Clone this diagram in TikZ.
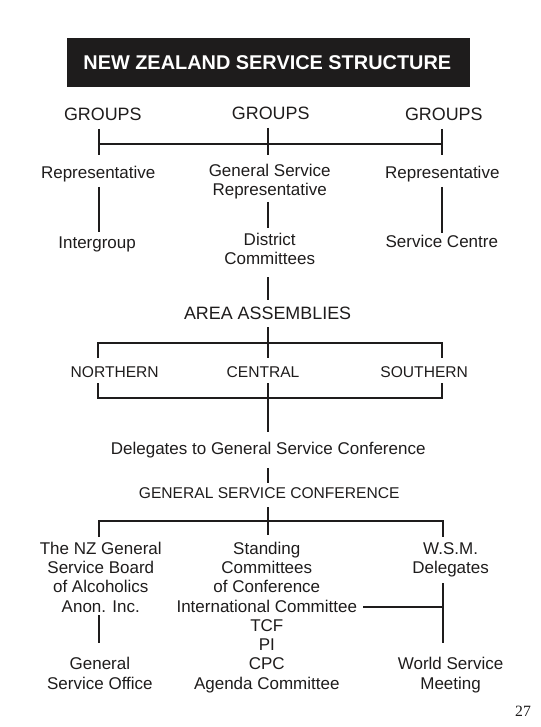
\documentclass[tikz,border=0pt]{standalone}
\usepackage{fontspec}
\setmainfont{Liberation Sans}
\newfontfamily\pagefont{Liberation Serif}
\definecolor{ink}{HTML}{1E1C1C}
\begin{document}
\begin{tikzpicture}[x=1pt,y=-1pt,
  body/.style={font=\fontsize{17}{19.3}\selectfont, align=center, inner sep=0pt, anchor=base, text=ink},
  bigcap/.style={font=\fontsize{17.9}{20}\selectfont, inner sep=0pt, anchor=base, text=ink},
  smallcap/.style={font=\fontsize{15.6}{18}\selectfont, inner sep=0pt, anchor=base, text=ink},
  ln/.style={line width=1.8pt, draw=ink}]
\useasboundingbox (0,0) rectangle (540,727);
% title
\node[fill=ink, minimum width=403.5pt, minimum height=48.4pt, inner sep=0pt] (titlebox) at (268.5,62.5) {};
\node[inner sep=0pt, anchor=base, text=white, font=\bfseries\fontsize{19.9}{23}\selectfont] (title) at (267.3,69.3) {NEW ZEALAND SERVICE STRUCTURE};
% groups
\node[bigcap] (gL) at (102.8,121) {GROUPS};
\node[bigcap] (gM) at (270.7,120) {GROUPS};
\node[bigcap] (gR) at (443.8,121) {GROUPS};
\coordinate (gLt) at (99,129); \coordinate (gLb) at (99,155); \coordinate (gLm) at (99,144);
\coordinate (gMt) at (268.3,128); \coordinate (gMb) at (268.3,155);
\coordinate (gRt) at (441.7,129); \coordinate (gRb) at (441.7,155); \coordinate (gRm) at (441.7,144);
\draw[ln] (gLt) -- (gLb); \draw[ln] (gMt) -- (gMb); \draw[ln] (gRt) -- (gRb);
\draw[ln] (gLm) -- (gRm);
% representatives
\node[body] (repL) at (98.2,178.1) {Representative};
\node[body] (gsr) at (269.7,195.6) {General Service\\Representative};
\node[body] (repR) at (442.3,178.1) {Representative};
\coordinate (rLt) at (99,187); \coordinate (rLb) at (99,232);
\coordinate (rMt) at (268.3,202); \coordinate (rMb) at (268.3,228);
\coordinate (rRt) at (441.7,187); \coordinate (rRb) at (441.7,233);
\draw[ln] (rLt) -- (rLb); \draw[ln] (rMt) -- (rMb); \draw[ln] (rRt) -- (rRb);
\node[body] (inter) at (97.1,248.1) {Intergroup};
\node[body] (dist) at (269.7,264.6) {District\\Committees};
\node[body] (sc) at (441.8,247.1) {Service Centre};
\coordinate (dMt) at (268.3,277); \coordinate (dMb) at (268.3,300);
\draw[ln] (dMt) -- (dMb);
% area assemblies
\node[bigcap] (aa) at (267.6,319.4) {AREA ASSEMBLIES};
\coordinate (aMt) at (268.3,327); \coordinate (aMb) at (268.3,358);
\coordinate (aLt) at (97.6,343); \coordinate (aLb) at (97.6,358);
\coordinate (aRt) at (442,343); \coordinate (aRb) at (442,358);
\draw[ln] (aMt) -- (aMb);
\draw[ln] (aLb) -- (aLt) -- (aRt) -- (aRb);
\node[smallcap] (north) at (114.7,377.6) {NORTHERN};
\node[smallcap] (cent) at (263,377.6) {CENTRAL};
\node[smallcap] (south) at (424.2,377.6) {SOUTHERN};
\coordinate (bLt) at (97.6,383); \coordinate (bLb) at (97.6,398);
\coordinate (bRt) at (442,383); \coordinate (bRb) at (442,398);
\coordinate (bMt) at (268.3,383); \coordinate (bMb) at (268.3,432);
\draw[ln] (bLt) -- (bLb) -- (bRb) -- (bRt);
\draw[ln] (bMt) -- (bMb);
% delegates
\node[body] (del) at (268.2,454.1) {Delegates to General Service Conference};
\coordinate (eMt) at (268.3,468); \coordinate (eMb) at (268.3,483);
\draw[ln] (eMt) -- (eMb);
\node[smallcap] (gsc) at (269.2,498.6) {GENERAL SERVICE CONFERENCE};
\coordinate (fMt) at (268.3,507); \coordinate (fMb) at (268.3,535);
\coordinate (fLt) at (98.9,521); \coordinate (fLb) at (98.9,537);
\coordinate (fRt) at (442.6,521); \coordinate (fRb) at (442.6,537);
\draw[ln] (fMt) -- (fMb);
\draw[ln] (fLb) -- (fLt) -- (fRt) -- (fRb);
% bottom
\node[body] (board) at (100.8,612) {The NZ General\\Service Board\\of Alcoholics\\Anon. Inc.};
\node[body] (stand) at (266.8,689.2) {Standing\\Committees\\of Conference\\International Committee\\TCF\\PI\\CPC\\Agenda Committee};
\node[body] (wsm) at (450.6,573.4) {W.S.M.\\Delegates};
\coordinate (hLt) at (98.9,615); \coordinate (hLb) at (98.9,643);
\coordinate (hRt) at (442.6,583); \coordinate (hRb) at (442.6,643);
\coordinate (icE) at (363.4,607); \coordinate (icR) at (442.6,607);
\draw[ln] (hLt) -- (hLb); \draw[ln] (hRt) -- (hRb); \draw[ln] (icE) -- (icR);
\node[body] (gso) at (99.9,689.1) {General\\Service Office};
\node[body] (wsmeet) at (450.6,689.1) {World Service\\Meeting};
\node[inner sep=0pt, anchor=base, text=ink, font=\pagefont\fontsize{15.7}{18}\selectfont] (page) at (523,716) {27};
\end{tikzpicture}
\end{document}
